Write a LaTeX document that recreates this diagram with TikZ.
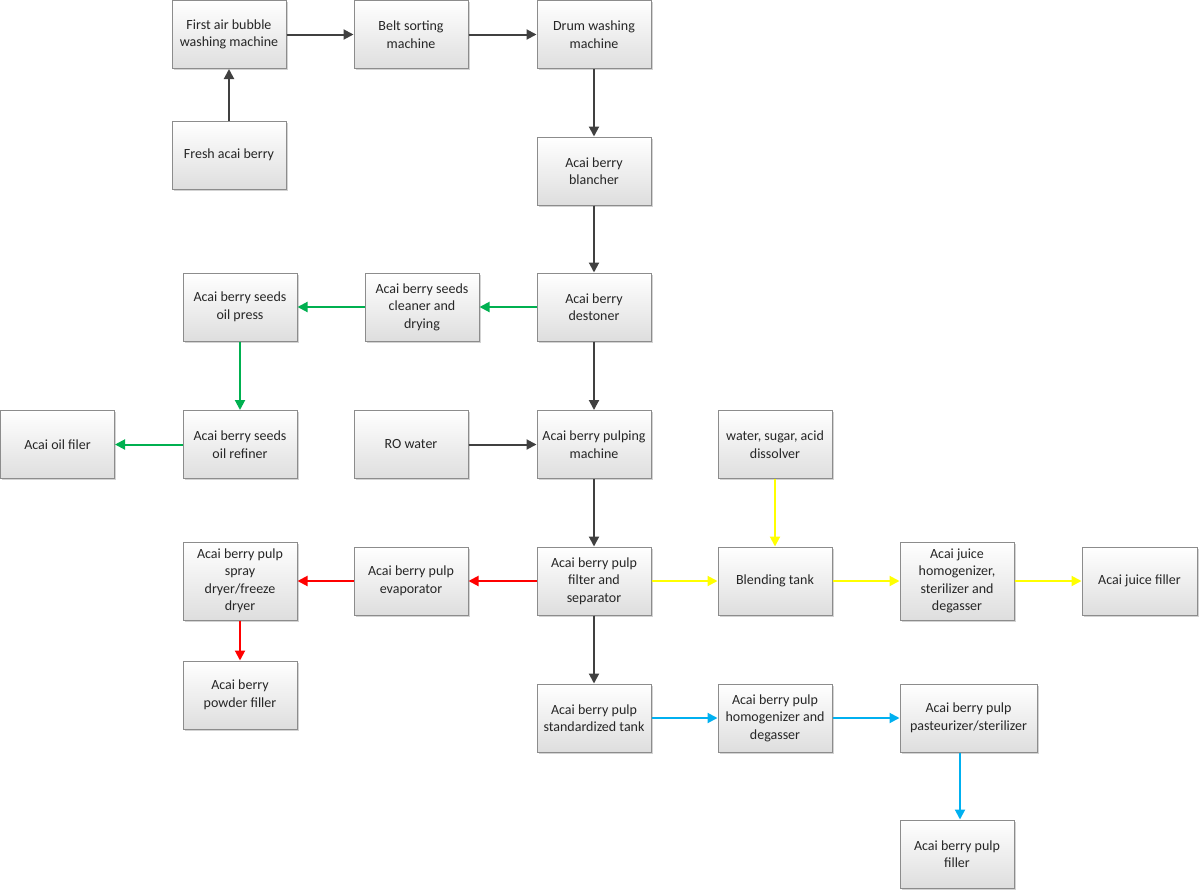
\documentclass[tikz,border=0pt]{standalone}
\usepackage{fontspec}
\setmainfont{Carlito}
\usetikzlibrary{arrows.meta,shadows,calc}
\definecolor{arrgray}{HTML}{404040}
\definecolor{arrgreen}{HTML}{00B050}
\definecolor{arrred}{HTML}{FF0000}
\definecolor{arryellow}{HTML}{FFFF00}
\definecolor{arrblue}{HTML}{00B0F0}
\definecolor{boxline}{HTML}{8C8C8C}
\definecolor{boxbot}{HTML}{DEDEDE}
\begin{document}
\begin{tikzpicture}[x=1pt,y=-1pt,
  box/.style={draw=boxline, line width=1pt, top color=white, bottom color=boxbot,
    minimum width=114pt, minimum height=68pt, align=center, inner sep=2pt,
    font=\fontsize{14}{17.5}\selectfont, text=black!85,
    drop shadow={shadow xshift=1.5pt, shadow yshift=-1.5pt, opacity=0.35}},
  tall/.style={minimum height=78pt},
  flow/.style={line width=2pt, -{Triangle[length=10pt,width=10pt]}},
  fgray/.style={flow, draw=arrgray, fill=arrgray},
  fgreen/.style={flow, draw=arrgreen, fill=arrgreen},
  fred/.style={flow, draw=arrred, fill=arrred},
  fyellow/.style={flow, draw=arryellow, fill=arryellow},
  fblue/.style={flow, draw=arrblue, fill=arrblue}]
\useasboundingbox (0,0) rectangle (1200,892);

\node[box] (A) at (229,34.5) {First air bubble\\washing machine};
\node[box] (B) at (411,34.5) {Belt sorting\\machine};
\node[box] (C) at (594,34.5) {Drum washing\\machine};
\node[box] (F) at (229,155) {Fresh acai berry};
\node[box] (D) at (594,171) {Acai berry\\blancher};
\node[box] (E) at (594,307) {Acai berry\\destoner};
\node[box] (S1) at (422,307) {Acai berry seeds\\cleaner and\\drying};
\node[box] (S2) at (240,307) {Acai berry seeds\\oil press};
\node[box] (S3) at (240,444.5) {Acai berry seeds\\oil refiner};
\node[box] (S4) at (57.5,444.5) {Acai oil filer};
\node[box] (RO) at (411,444.5) {RO water};
\node[box] (P) at (594,444.5) {Acai berry pulping\\machine};
\node[box] (W) at (775,444.5) {water, sugar, acid\\dissolver};
\node[box] (FS) at (594,581) {Acai berry pulp\\filter and\\separator};
\node[box] (EV) at (411,581) {Acai berry pulp\\evaporator};
\node[box,tall] (SP) at (240,581) {Acai berry pulp\\spray\\dryer/freeze\\dryer};
\node[box] (PW) at (240,695) {Acai berry\\powder filler};
\node[box] (BL) at (775,581) {Blending tank};
\node[box,tall] (J) at (957,581) {Acai juice\\homogenizer,\\sterilizer and\\degasser};
\node[box,minimum width=115pt] (JF) at (1139.5,581) {Acai juice filler};
\node[box] (ST) at (594,718) {Acai berry pulp\\standardized tank};
\node[box] (H) at (775,718) {Acai berry pulp\\homogenizer and\\degasser};
\node[box,minimum width=137pt] (PA) at (968.5,718) {Acai berry pulp\\pasteurizer/sterilizer};
\node[box] (PF) at (957,854) {Acai berry pulp\\filler};

% gray main line
\draw[fgray] (F) -- (A);
\draw[fgray] (A) -- (B);
\draw[fgray] (B) -- (C);
\draw[fgray] (C) -- (D);
\draw[fgray] (D) -- (E);
\draw[fgray] (E) -- (P);
\draw[fgray] (RO) -- (P);
\draw[fgray] (P) -- (FS);
\draw[fgray] (FS) -- (ST);
% green seeds line
\draw[fgreen] (E) -- (S1);
\draw[fgreen] (S1) -- (S2);
\draw[fgreen] (S2) -- (S3);
\draw[fgreen] (S3) -- (S4);
% red powder line
\draw[fred] (FS) -- (EV);
\draw[fred] (EV) -- (SP);
\draw[fred] (SP) -- (PW);
% yellow juice line
\draw[fyellow] (W) -- (BL);
\draw[fyellow] (FS) -- (BL);
\draw[fyellow] (BL) -- (J);
\draw[fyellow] (J) -- (JF);
% blue pulp line
\draw[fblue] ($(PA.south -| PF.north)+(3,0)$) -- ($(PF.north)+(3,0)$);
\draw[fblue] (ST) -- (H);
\draw[fblue] (H) -- (PA);
\end{tikzpicture}
\end{document}
